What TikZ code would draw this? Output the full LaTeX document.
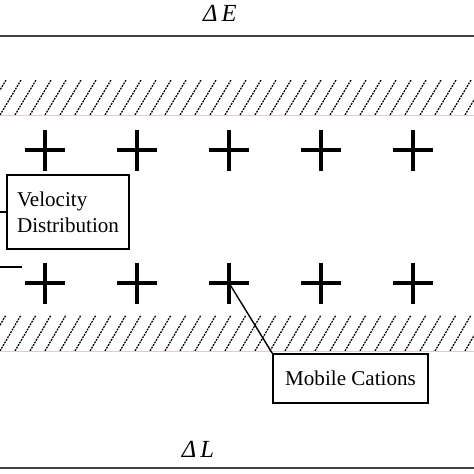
\documentclass[tikz,border=0pt]{standalone}
\usepackage{fontspec}
\setmainfont{Liberation Serif}
\usepackage{xcolor}

\definecolor{wallline}{RGB}{235,200,205}

\tikzset{
	cation/.style={minimum size=0.82cm, inner sep=0pt,
		path picture={
			\draw[line width=2.3pt] (path picture bounding box.north) -- (path picture bounding box.south);
			\draw[line width=2.3pt] (path picture bounding box.west) -- (path picture bounding box.east);
		}},
	labelbox/.style={draw, line width=0.9pt, inner sep=4pt, font=\fontsize{12}{15}\selectfont},
	hatchline/.style={line width=0.7pt, dash pattern=on 1.1pt off 0.6pt},
	rail/.style={draw=black!75, line width=1.1pt},
	quantity/.style={font=\fontsize{14}{16}\selectfont\itshape},
}

\begin{document}
\begin{tikzpicture}[x=0.02cm, y=-0.02cm]
	\useasboundingbox (0,0) rectangle (474,474);

	% field and length
	\node[quantity] (de) at (220,13) {Δ\,E};
	\coordinate (tl) at (0,36);
	\coordinate (tr) at (474,36);
	\draw[rail] (tl) -- (tr);
	\node[quantity] (dl) at (198,449) {Δ\,L};
	\coordinate (bl) at (0,468);
	\coordinate (br) at (474,468);
	\draw[rail] (bl) -- (br);

	% hatched walls
	\foreach \top/\bot in {80/115, 315/351} {
		\begin{scope}
			\clip (0,\top) rectangle (474,\bot);
			\foreach \x in {-30,-15,...,480}
				\draw[hatchline] (\x,\bot) -- ++(21,\top-\bot);
		\end{scope}
		\draw[wallline, line width=0.5pt] (0,\bot) -- (474,\bot);
	}

	% cations
	\foreach \x [count=\n] in {45,137,229,321,413} {
		\node[cation] (u\n) at (\x,150) {};
		\node[cation] (l\n) at (\x,283) {};
	}

	\node[labelbox, minimum width=2.44cm, minimum height=1.48cm, align=left] (vdist) at (68,212) {Velocity\\Distribution};
	\coordinate (vl) at (0,212);
	\draw[line width=0.8pt] (vdist.west) -- (vl);
	\coordinate (pa) at (0,267);
	\coordinate (pb) at (22,267);
	\draw[line width=0.8pt] (pa) -- (pb);

	\node[labelbox, minimum width=3.1cm, minimum height=0.98cm] (mcat) at (350.5,378.5) {Mobile Cations};
	\draw[line width=0.8pt] (l3.center) -- (mcat.north west);
\end{tikzpicture}
\end{document}
